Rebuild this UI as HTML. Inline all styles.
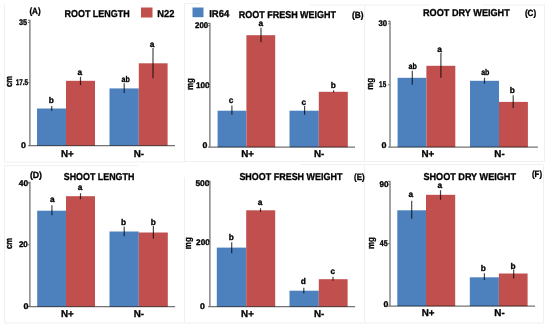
<!DOCTYPE html><html><head><meta charset="utf-8"><title>Figure</title>
<style>html,body{margin:0;padding:0;background:#fff}svg{display:block}text{font-family:"Liberation Sans","DejaVu Sans",sans-serif;font-weight:bold;text-rendering:geometricPrecision;fill:#000;stroke:#000;stroke-width:.32px;stroke-linejoin:round}</style></head><body>
<svg width="550" height="328" viewBox="0 0 550 328">
<defs><filter id="soft" x="0" y="0" width="550" height="328" filterUnits="userSpaceOnUse"><feGaussianBlur stdDeviation="0.45"/></filter></defs>
<rect width="550" height="328" fill="#fff"/>
<g filter="url(#soft)">
<g fill="none" stroke="#f0f0f0" stroke-width="1">
<path d="M4.5 4V162H184.5V4M184.5 3.5H200M310 5H430M482 5H544.5V161.5H184.5M364.6 5V161.5"/>
<path d="M4.5 165.5H138M4.5 165.5V323H543.5V164.5H300M184.5 177V323M364.6 165V323"/>
</g>
<rect x="141" y="7.5" width="11.5" height="10" fill="#c0504d"/>
<text x="157.2" y="16.5" font-size="10" textLength="17.2" lengthAdjust="spacingAndGlyphs">N22</text>
<rect x="192.5" y="7.5" width="11" height="9.7" fill="#4e81bd"/>
<text x="209.2" y="16.5" font-size="10" textLength="20.1" lengthAdjust="spacingAndGlyphs">IR64</text>
<g id="panelA">
<rect x="37" y="108.5" width="29" height="37.2" fill="#4e81bd"/>
<rect x="66" y="80.8" width="29" height="64.9" fill="#c0504d"/>
<rect x="109.5" y="88.4" width="29.3" height="57.3" fill="#4e81bd"/>
<rect x="138.8" y="63.3" width="28.8" height="82.4" fill="#c0504d"/>
<path d="M28.1 20.3H29.9V145.7M28.1 145.7H175" fill="none" stroke="#000" stroke-opacity=".55" stroke-width="1.3"/>
<path d="M51.7 105.9V110.7" stroke="#000" stroke-opacity=".72" stroke-width="1.2"/>
<path d="M80.5 76.7V85.2" stroke="#000" stroke-opacity=".72" stroke-width="1.2"/>
<path d="M124.2 83.3V93" stroke="#000" stroke-opacity=".72" stroke-width="1.2"/>
<path d="M153 48V78.3" stroke="#000" stroke-opacity=".72" stroke-width="1.2"/>
<text x="19" y="24.9" font-size="8.2" textLength="8.2" lengthAdjust="spacingAndGlyphs">35</text>
<path d="M27.9 22.5h2" stroke="#777" stroke-width="1"/>
<text x="15.7" y="85.1" font-size="8.2" textLength="12.5" lengthAdjust="spacingAndGlyphs">17.5</text>
<path d="M27.9 82.7h2" stroke="#777" stroke-width="1"/>
<text x="20.9" y="147.7" font-size="8.2" textLength="5.0" lengthAdjust="spacingAndGlyphs">0</text>
<text transform="translate(12.4,81.6) rotate(-90)" font-size="9.5" text-anchor="middle" textLength="11" lengthAdjust="spacingAndGlyphs">cm</text>
<text x="64.6" y="17.4" font-size="10" textLength="65.0" lengthAdjust="spacingAndGlyphs">ROOT LENGTH</text>
<text x="29.4" y="14.4" font-size="9" textLength="11.2" lengthAdjust="spacingAndGlyphs">(A)</text>
<text x="51.3" y="102.7" font-size="8.3" text-anchor="middle">b</text>
<text x="79.9" y="75.1" font-size="8.3" text-anchor="middle">a</text>
<text x="125.6" y="82" font-size="8.3" text-anchor="middle" textLength="8.3" lengthAdjust="spacingAndGlyphs">ab</text>
<text x="152" y="46.5" font-size="8.3" text-anchor="middle">a</text>
<text x="67.3" y="156.6" font-size="9.8" text-anchor="middle">N+</text>
<text x="138.9" y="156.6" font-size="9.8" text-anchor="middle">N-</text>
</g>
<g id="panelB">
<rect x="217.6" y="110.7" width="28.8" height="36.5" fill="#4e81bd"/>
<rect x="246.4" y="35.2" width="28.8" height="112.0" fill="#c0504d"/>
<rect x="289.5" y="110.7" width="29.3" height="36.5" fill="#4e81bd"/>
<rect x="318.8" y="91.8" width="29.0" height="55.4" fill="#c0504d"/>
<path d="M208.1 23.3H209.9V147.2M208.1 147.2H355" fill="none" stroke="#000" stroke-opacity=".55" stroke-width="1.3"/>
<path d="M231.9 105.6V114.7" stroke="#000" stroke-opacity=".72" stroke-width="1.2"/>
<path d="M261 27.8V42.3" stroke="#000" stroke-opacity=".72" stroke-width="1.2"/>
<path d="M304.6 105.9V114.7" stroke="#000" stroke-opacity=".72" stroke-width="1.2"/>
<path d="M333.6 90.2V92.6" stroke="#000" stroke-opacity=".72" stroke-width="1.2"/>
<text x="195" y="28.1" font-size="8.2" textLength="13.2" lengthAdjust="spacingAndGlyphs">200</text>
<path d="M207.9 25.7h2" stroke="#777" stroke-width="1"/>
<text x="195.9" y="87.8" font-size="8.2" textLength="13.7" lengthAdjust="spacingAndGlyphs">100</text>
<path d="M207.9 85.4h2" stroke="#777" stroke-width="1"/>
<text x="202.5" y="147.7" font-size="8.2" textLength="4.9" lengthAdjust="spacingAndGlyphs">0</text>
<text transform="translate(192.5,84) rotate(-90)" font-size="9.5" text-anchor="middle" textLength="12" lengthAdjust="spacingAndGlyphs">mg</text>
<text x="238.8" y="18.1" font-size="10" textLength="97.2" lengthAdjust="spacingAndGlyphs">ROOT FRESH WEIGHT</text>
<text x="352.1" y="17.7" font-size="9" textLength="11.5" lengthAdjust="spacingAndGlyphs">(B)</text>
<text x="231" y="103" font-size="8.3" text-anchor="middle">c</text>
<text x="260.9" y="26.2" font-size="8.3" text-anchor="middle">a</text>
<text x="303.8" y="105.3" font-size="8.3" text-anchor="middle">c</text>
<text x="333.4" y="88.2" font-size="8.3" text-anchor="middle">b</text>
<text x="247.7" y="156.6" font-size="9.8" text-anchor="middle">N+</text>
<text x="319.2" y="156.6" font-size="9.8" text-anchor="middle">N-</text>
</g>
<g id="panelC">
<rect x="397.6" y="77.8" width="28.8" height="69.3" fill="#4e81bd"/>
<rect x="426.4" y="65.8" width="28.9" height="81.3" fill="#c0504d"/>
<rect x="470" y="80.8" width="29" height="66.3" fill="#4e81bd"/>
<rect x="499" y="101.9" width="28.9" height="45.2" fill="#c0504d"/>
<path d="M388.2 21.400000000000002H390.0V147.1M388.2 147.1H537.9" fill="none" stroke="#000" stroke-opacity=".55" stroke-width="1.3"/>
<path d="M412.3 70.8V84.7" stroke="#000" stroke-opacity=".72" stroke-width="1.2"/>
<path d="M440.9 53.1V77.8" stroke="#000" stroke-opacity=".72" stroke-width="1.2"/>
<path d="M484.5 77.7V83.7" stroke="#000" stroke-opacity=".72" stroke-width="1.2"/>
<path d="M513.2 95.2V107.9" stroke="#000" stroke-opacity=".72" stroke-width="1.2"/>
<text x="378.5" y="26.2" font-size="8.2" textLength="8.7" lengthAdjust="spacingAndGlyphs">30</text>
<path d="M388.0 23.8h2" stroke="#777" stroke-width="1"/>
<text x="379.1" y="87.2" font-size="8.2" textLength="7.1" lengthAdjust="spacingAndGlyphs">15</text>
<path d="M388.0 84.8h2" stroke="#777" stroke-width="1"/>
<text x="381.6" y="147.5" font-size="8.2" textLength="5.0" lengthAdjust="spacingAndGlyphs">0</text>
<text transform="translate(372.5,83.8) rotate(-90)" font-size="9.5" text-anchor="middle" textLength="12" lengthAdjust="spacingAndGlyphs">mg</text>
<text x="423" y="16.1" font-size="10" textLength="86.8" lengthAdjust="spacingAndGlyphs">ROOT DRY WEIGHT</text>
<text x="524.9" y="15.7" font-size="9" textLength="11.3" lengthAdjust="spacingAndGlyphs">(C)</text>
<text x="412.6" y="69.2" font-size="8.3" text-anchor="middle" textLength="8.3" lengthAdjust="spacingAndGlyphs">ab</text>
<text x="439.5" y="51.6" font-size="8.3" text-anchor="middle">a</text>
<text x="485.3" y="74.5" font-size="8.3" text-anchor="middle" textLength="8.3" lengthAdjust="spacingAndGlyphs">ab</text>
<text x="512.4" y="93.2" font-size="8.3" text-anchor="middle">b</text>
<text x="427.9" y="156.8" font-size="9.8" text-anchor="middle">N+</text>
<text x="499.5" y="156.8" font-size="9.8" text-anchor="middle">N-</text>
</g>
<g id="panelD">
<rect x="37.2" y="210.7" width="28.8" height="96.0" fill="#4e81bd"/>
<rect x="66" y="196.2" width="29" height="110.5" fill="#c0504d"/>
<rect x="109.5" y="231.5" width="29.3" height="75.2" fill="#4e81bd"/>
<rect x="138.8" y="232.5" width="29.0" height="74.2" fill="#c0504d"/>
<path d="M28.1 182.3H29.9V306.7M28.1 306.7H175.1" fill="none" stroke="#000" stroke-opacity=".55" stroke-width="1.3"/>
<path d="M51.9 205.3V215.3" stroke="#000" stroke-opacity=".72" stroke-width="1.2"/>
<path d="M80.5 193.2V199.2" stroke="#000" stroke-opacity=".72" stroke-width="1.2"/>
<path d="M124.2 226.7V236.2" stroke="#000" stroke-opacity=".72" stroke-width="1.2"/>
<path d="M153.4 226.1V238.6" stroke="#000" stroke-opacity=".72" stroke-width="1.2"/>
<text x="18.8" y="185.6" font-size="8.2" textLength="9.4" lengthAdjust="spacingAndGlyphs">40</text>
<path d="M27.9 183.2h2" stroke="#777" stroke-width="1"/>
<text x="18.9" y="247.1" font-size="8.2" textLength="8.9" lengthAdjust="spacingAndGlyphs">20</text>
<path d="M27.9 244.7h2" stroke="#777" stroke-width="1"/>
<text x="23.4" y="308.8" font-size="8.2" textLength="5.0" lengthAdjust="spacingAndGlyphs">0</text>
<text transform="translate(12.4,243.5) rotate(-90)" font-size="9.5" text-anchor="middle" textLength="11" lengthAdjust="spacingAndGlyphs">cm</text>
<text x="63.8" y="180.1" font-size="10" textLength="70.5" lengthAdjust="spacingAndGlyphs">SHOOT LENGTH</text>
<text x="29.9" y="178" font-size="9" textLength="12.1" lengthAdjust="spacingAndGlyphs">(D)</text>
<text x="52.3" y="202.3" font-size="8.3" text-anchor="middle">a</text>
<text x="80.1" y="189.8" font-size="8.3" text-anchor="middle">a</text>
<text x="123.6" y="225.1" font-size="8.3" text-anchor="middle">b</text>
<text x="153.4" y="224.7" font-size="8.3" text-anchor="middle">b</text>
<text x="67.3" y="316.9" font-size="9.8" text-anchor="middle">N+</text>
<text x="138.9" y="316.9" font-size="9.8" text-anchor="middle">N-</text>
</g>
<g id="panelE">
<rect x="216.8" y="247.6" width="29.4" height="59.1" fill="#4e81bd"/>
<rect x="246.2" y="210.3" width="29.0" height="96.4" fill="#c0504d"/>
<rect x="289.5" y="290.7" width="29.3" height="16.0" fill="#4e81bd"/>
<rect x="318.8" y="279.2" width="28.8" height="27.5" fill="#c0504d"/>
<path d="M208.1 181.3H209.9V306.7M208.1 306.7H355.1" fill="none" stroke="#000" stroke-opacity=".55" stroke-width="1.3"/>
<path d="M231.7 242.2V253.3" stroke="#000" stroke-opacity=".72" stroke-width="1.2"/>
<path d="M260.5 208.3V211.9" stroke="#000" stroke-opacity=".72" stroke-width="1.2"/>
<path d="M303.8 287.7V293.3" stroke="#000" stroke-opacity=".72" stroke-width="1.2"/>
<path d="M333 276.8V280.8" stroke="#000" stroke-opacity=".72" stroke-width="1.2"/>
<text x="195.4" y="185.7" font-size="8.2" textLength="14.2" lengthAdjust="spacingAndGlyphs">500</text>
<path d="M207.9 183.3h2" stroke="#777" stroke-width="1"/>
<text x="196.1" y="245.4" font-size="8.2" textLength="13.7" lengthAdjust="spacingAndGlyphs">200</text>
<path d="M207.9 243.0h2" stroke="#777" stroke-width="1"/>
<text x="200.0" y="309.0" font-size="8.2" textLength="4.9" lengthAdjust="spacingAndGlyphs">0</text>
<text transform="translate(191.3,243.2) rotate(-90)" font-size="9.5" text-anchor="middle" textLength="12" lengthAdjust="spacingAndGlyphs">mg</text>
<text x="239.4" y="180.1" font-size="10" textLength="103.0" lengthAdjust="spacingAndGlyphs">SHOOT FRESH WEIGHT</text>
<text x="354.1" y="179.5" font-size="9" textLength="10.5" lengthAdjust="spacingAndGlyphs">(E)</text>
<text x="231.3" y="240.2" font-size="8.3" text-anchor="middle">b</text>
<text x="260.1" y="205.3" font-size="8.3" text-anchor="middle">a</text>
<text x="303.2" y="284.3" font-size="8.3" text-anchor="middle">d</text>
<text x="332.8" y="273.6" font-size="8.3" text-anchor="middle">c</text>
<text x="247.5" y="316.9" font-size="9.8" text-anchor="middle">N+</text>
<text x="319.2" y="316.9" font-size="9.8" text-anchor="middle">N-</text>
</g>
<g id="panelF">
<rect x="397.3" y="210.3" width="28.7" height="95.8" fill="#4e81bd"/>
<rect x="426" y="194.8" width="29.2" height="111.3" fill="#c0504d"/>
<rect x="469.8" y="277.3" width="29.1" height="28.8" fill="#4e81bd"/>
<rect x="498.9" y="273.5" width="28.7" height="32.6" fill="#c0504d"/>
<path d="M388.2 181.4H390.0V306.1M388.2 306.1H535.1" fill="none" stroke="#000" stroke-opacity=".55" stroke-width="1.3"/>
<path d="M411.7 200.8V218.8" stroke="#000" stroke-opacity=".72" stroke-width="1.2"/>
<path d="M440.5 190.2V199.8" stroke="#000" stroke-opacity=".72" stroke-width="1.2"/>
<path d="M484.4 273.2V280.1" stroke="#000" stroke-opacity=".72" stroke-width="1.2"/>
<path d="M513.7 269.7V278.4" stroke="#000" stroke-opacity=".72" stroke-width="1.2"/>
<text x="379.5" y="186.9" font-size="8.2" textLength="9.1" lengthAdjust="spacingAndGlyphs">90</text>
<path d="M388.0 184.5h2" stroke="#777" stroke-width="1"/>
<text x="379.7" y="246.0" font-size="8.2" textLength="7.9" lengthAdjust="spacingAndGlyphs">45</text>
<path d="M388.0 243.6h2" stroke="#777" stroke-width="1"/>
<text x="383.6" y="307.4" font-size="8.2" textLength="4.9" lengthAdjust="spacingAndGlyphs">0</text>
<text transform="translate(373.5,243) rotate(-90)" font-size="9.5" text-anchor="middle" textLength="12" lengthAdjust="spacingAndGlyphs">mg</text>
<text x="423.4" y="180.1" font-size="10" textLength="92.6" lengthAdjust="spacingAndGlyphs">SHOOT DRY WEIGHT</text>
<text x="532" y="176.5" font-size="9" textLength="10" lengthAdjust="spacingAndGlyphs">(F)</text>
<text x="410.9" y="196.6" font-size="8.3" text-anchor="middle">a</text>
<text x="439.9" y="187.6" font-size="8.3" text-anchor="middle">a</text>
<text x="483.3" y="270.8" font-size="8.3" text-anchor="middle">b</text>
<text x="513" y="268.7" font-size="8.3" text-anchor="middle">b</text>
<text x="428.2" y="316.2" font-size="9.8" text-anchor="middle">N+</text>
<text x="499.5" y="316.2" font-size="9.8" text-anchor="middle">N-</text>
</g>
</g>
</svg></body></html>
